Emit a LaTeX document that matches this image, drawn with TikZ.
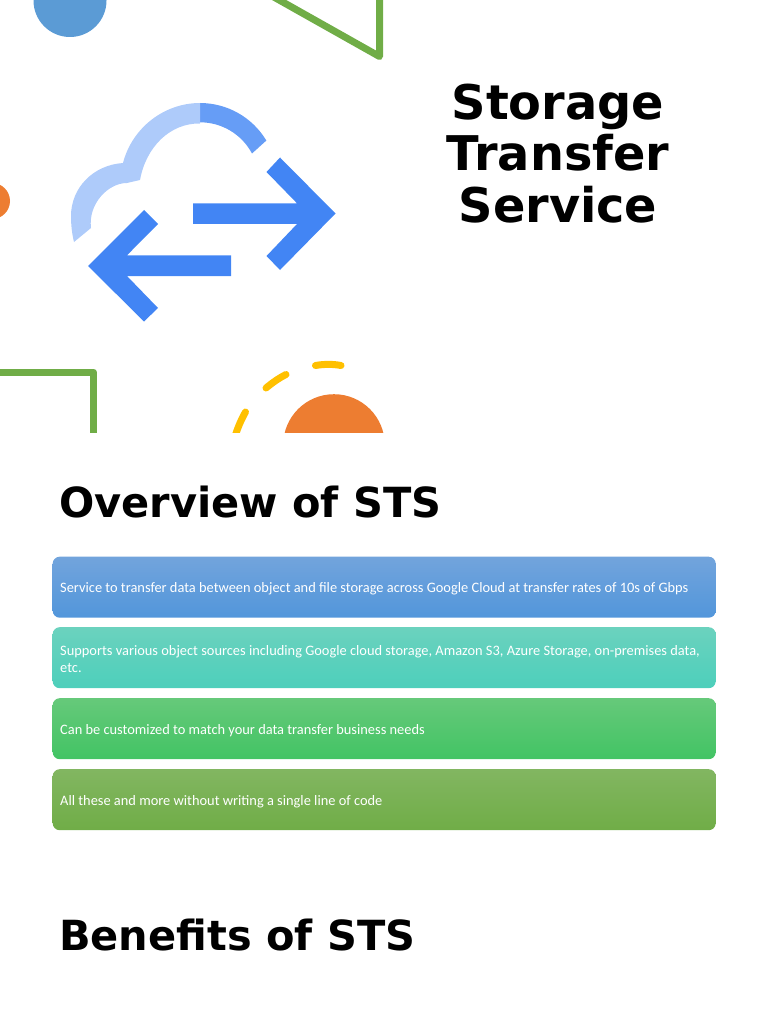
\documentclass[tikz,border=0pt]{standalone}
\usepackage{fontspec}
\setmainfont{DejaVu Sans}
\newfontfamily\boxfont{Carlito}
\definecolor{shapegreen}{HTML}{70AD47}
\definecolor{shapeblue}{HTML}{5B9BD5}
\definecolor{shapeorange}{HTML}{ED7D31}
\definecolor{shapeyellow}{HTML}{FFC000}
\definecolor{cloudlight}{HTML}{AECBFA}
\definecolor{cloudmid}{HTML}{669DF6}
\definecolor{arrowblue}{HTML}{4285F4}
\definecolor{servicetop}{HTML}{72A4DC}
\definecolor{servicebot}{HTML}{5296DB}
\definecolor{sourcestop}{HTML}{6BD2BE}
\definecolor{sourcesbot}{HTML}{4DCFBB}
\definecolor{customtop}{HTML}{66C97A}
\definecolor{custombot}{HTML}{42C464}
\definecolor{nocodetop}{HTML}{82B661}
\tikzset{
	heading/.style={font=\bfseries\fontsize{41.5}{48}\selectfont, anchor=base west, inner sep=0pt},
	titletext/.style={font=\bfseries\fontsize{47.8}{51.3}\selectfont, align=center, inner sep=0pt},
	itembox/.style={rectangle, rounded corners=7pt, minimum height=61pt, text width=648pt,
		inner xsep=7.5pt, inner ysep=0pt, align=flush left, anchor=north west, text=white,
		font=\boxfont\fontsize{14.4}{17}\selectfont, execute at begin node={\rule{0pt}{13.5pt}}},
	outline/.style={shapegreen, line width=7pt, line join=round},
	sundash/.style={shapeyellow, line width=7pt, line cap=round}
}
\begin{document}
\begin{tikzpicture}[x=1pt,y=-1pt]
	\useasboundingbox (0,0) rectangle (768,1024);
	
	\begin{scope}
	\clip (0,0) rectangle (768,432);
	\fill[shapeblue] (70,0.5) circle[radius=36.5];
	\fill[shapeorange] (-8,201) circle[radius=18];
	\fill[shapeorange] (334,445) circle[radius=50.8];
	\draw[outline] (272,-4) -- (379.5,56.5) -- (379.5,-6);
	\draw[outline] (-6,372) -- (93.5,372) -- (93.5,440);
	\draw[sundash] (315.5,365.5) .. controls (324,364) and (333,364) .. (341,365.5);
	\draw[sundash] (266,388) .. controls (272,383) and (279,378) .. (286,374.5);
	\draw[sundash] (245.5,412) .. controls (241,420) and (237,429) .. (234,440);
	\end{scope}
	
	% cloud
	\fill[cloudmid] (200,103) arc[start angle=270, end angle=329, radius=77.4]
		-- (252,153.5) arc[start angle=332, end angle=270, radius=58.8] -- cycle;
	\fill[cloudlight] (200,103) .. controls (164,103) and (132,128) .. (123,163)
		.. controls (93,165) and (71,188) .. (71,216)
		.. controls (71,225) and (72,234) .. (74,242) -- (91,228)
		.. controls (88,204) and (108,183) .. (127,183) -- (140,180)
		.. controls (146,147) and (170,123) .. (200,123.5) -- cycle;
	
	% arrows
	\fill[arrowblue] (193,203.3) -- (297,203.3) -- (266.5,172) -- (280,157.5) -- (335.5,213.5)
		-- (280,270) -- (266.5,256) -- (297,224) -- (193,224) -- cycle;
	\fill[arrowblue] (231,255.3) -- (127,255.3) -- (158,224) -- (144,210) -- (88,266)
		-- (144,321.5) -- (158,308) -- (127,276) -- (231,276) -- cycle;
	
	\node[titletext] (title) at (558,153.5) {Storage\\Transfer\\Service};
	
	\node[heading] (overview) at (59,517) {Overview of STS};
	\node[heading] (benefits) at (59,950) {Benefits of STS};
	
	\node[itembox, top color=servicetop, bottom color=servicebot] (service) at (52.5,556.5)
		{Service to transfer data between object and file storage across Google Cloud at transfer rates of 10s of Gbps};
	\node[itembox, top color=sourcestop, bottom color=sourcesbot] (sources) at (52.5,627)
		{Supports various object sources including Google cloud storage, Amazon S3, Azure Storage, on-premises data, etc.};
	\node[itembox, top color=customtop, bottom color=custombot] (custom) at (52.5,698)
		{Can be customized to match your data transfer business needs};
	\node[itembox, top color=nocodetop, bottom color=shapegreen] (nocode) at (52.5,769)
		{All these and more without writing a single line of code};
\end{tikzpicture}
\end{document}
